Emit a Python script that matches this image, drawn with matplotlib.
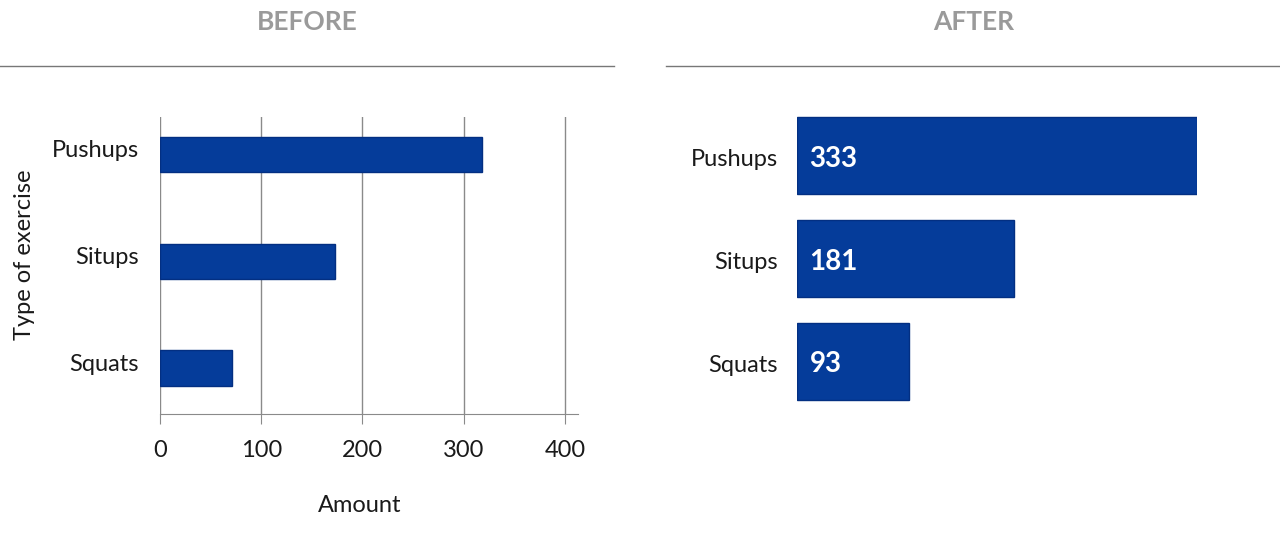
import numpy as np
import matplotlib
matplotlib.use("Agg")
import matplotlib.pyplot as plt
import matplotlib.transforms as mtransforms
from matplotlib.lines import Line2D

plt.rcParams["font.family"] = ["Lato", "DejaVu Sans"]

exercises = ["Pushups", "Situps", "Squats"]
before_amount = [318, 173, 71]
after_amount = [333, 181, 93]
x_ticks = [0, 100, 200, 300, 400]

bar_color = "#053C9A"
edge_color = "#032F82"
grid_color = "#8a8a8a"
text_color = "#1a1a1a"

fig = plt.figure(figsize=(12.8, 5.59), dpi=100)
W, H = 1280, 559

def px_axes(x0, y_top, x1, y_bottom):
    return fig.add_axes([x0 / W, (H - y_bottom) / H, (x1 - x0) / W, (y_bottom - y_top) / H])

def nudge_labels(labels, dy_px):
    off = mtransforms.ScaledTranslation(0, dy_px / 100, fig.dpi_scale_trans)
    for lbl in labels:
        lbl.set_transform(lbl.get_transform() + off)

y = np.arange(len(exercises))

# BEFORE
ax1 = px_axes(160, 117, 578, 414)
ax1.barh(y, before_amount, height=0.33, color=bar_color, edgecolor=edge_color, linewidth=1, zorder=3)
ax1.set_xlim(0, 413)
ax1.set_ylim(2.43, -0.35)
ax1.set_xticks(x_ticks)
ax1.set_yticks(y)
ax1.set_yticklabels(exercises)
ax1.grid(axis="x", color=grid_color, linewidth=1, zorder=0)
for s in ["top", "right", "left"]:
    ax1.spines[s].set_visible(False)
ax1.spines["bottom"].set_color(grid_color)
ax1.tick_params(axis="x", length=7, color=grid_color, pad=12, labelsize=17, labelcolor=text_color)
ax1.tick_params(axis="y", length=0, pad=15, labelsize=17, labelcolor=text_color)
nudge_labels(ax1.get_yticklabels(), 6)
ax1.set_xlabel("Amount", fontsize=17, color=text_color)
ax1.xaxis.set_label_coords(0.478, -0.272)
ax1.set_ylabel("Type of exercise", fontsize=17, color=text_color)
ax1.yaxis.set_label_coords(-0.30, 0.535)

# AFTER
ax2 = px_axes(797, 104.5, 1197, 413)
ax2.barh(y, after_amount, height=0.75, color=bar_color, edgecolor=edge_color, linewidth=1)
ax2.set_xlim(0, max(after_amount))
ax2.set_ylim(2.5, -0.5)
ax2.set_xticks([])
ax2.set_yticks(y)
ax2.set_yticklabels(exercises)
ax2.tick_params(axis="y", length=0, pad=14, labelsize=17, labelcolor=text_color)
nudge_labels(ax2.get_yticklabels(), -2)
for s in ax2.spines.values():
    s.set_visible(False)
for i, v in enumerate(after_amount):
    ax2.annotate(str(v), (0, i), xytext=(9, -2), textcoords="offset points",
                 ha="left", va="center", color="white", fontsize=20, fontweight="bold")

# headers
title_color = "#9a9a9a"
fig.text(307 / W, (H - 22) / H, "BEFORE", ha="center", va="center", fontsize=19,
         fontweight="bold", color=title_color)
fig.text(974 / W, (H - 22) / H, "AFTER", ha="center", va="center", fontsize=19,
         fontweight="bold", color=title_color)
rule_y = (H - 66) / H
fig.add_artist(Line2D([0, 614 / W], [rule_y, rule_y], color="#777777", linewidth=1))
fig.add_artist(Line2D([666 / W, 1], [rule_y, rule_y], color="#777777", linewidth=1))

fig.savefig("out.png", dpi=100)
